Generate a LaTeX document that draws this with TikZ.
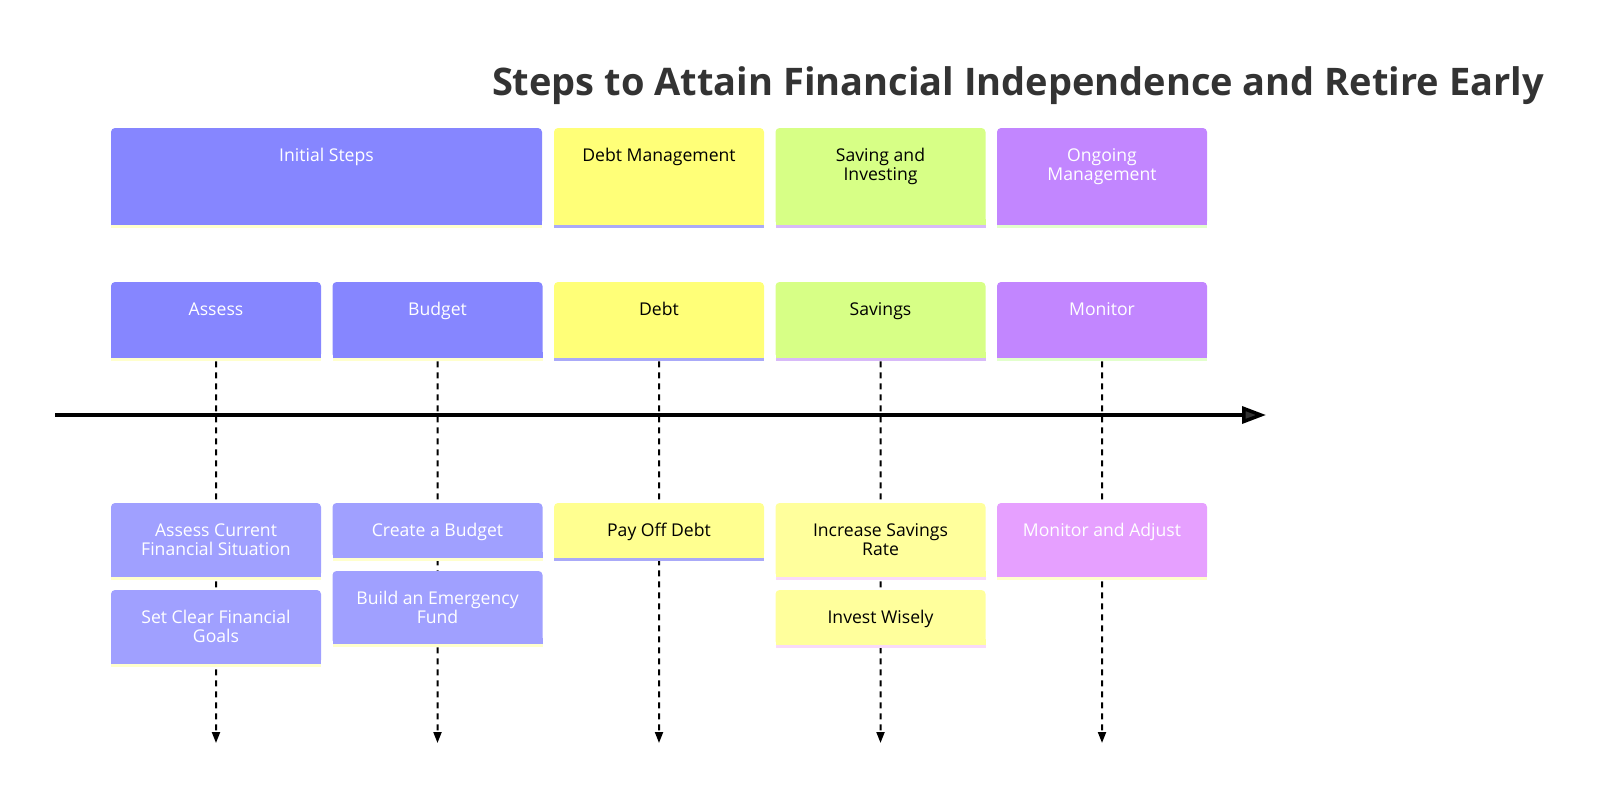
\documentclass[tikz,border=0pt]{standalone}
\usepackage{fontspec}
\setmainfont{Open Sans}
\usetikzlibrary{arrows.meta}

\definecolor{ink}{HTML}{333333}
\definecolor{blueHead}{HTML}{8686FF}
\definecolor{yellowHead}{HTML}{FFFF78}
\definecolor{greenHead}{HTML}{D7FF86}
\definecolor{purpleHead}{HTML}{C286FF}
\definecolor{blueEvent}{HTML}{A0A0FF}
\definecolor{yellowEvent}{HTML}{FFFF90}
\definecolor{paleEvent}{HTML}{FFFF9C}
\definecolor{pinkEvent}{HTML}{E6A0FF}
\definecolor{stripYellow}{HTML}{FFFFCC}
\definecolor{stripBlue}{HTML}{AAAAF8}
\definecolor{stripLilac}{HTML}{D8BAF8}
\definecolor{stripGreen}{HTML}{E2FFCC}
\definecolor{stripPink}{HTML}{F9DAF9}

% box with rounded top, square bottom and a thin strip under it
% #1 name, #2 left, #3 top, #4 width, #5 height, #6 fill, #7 strip, #8 text colour, #9 text
\newcommand{\tlbox}[9]{%
  \fill[#6, rounded corners=4pt] (#2,#3) rectangle ++(#4,#5);
  \fill[#6] (#2,#3+#5-6) rectangle ++(#4,6);
  \fill[#7] (#2,#3+#5) rectangle ++(#4,3);
  \node[inner sep=0pt, minimum width=#4, minimum height=#5+3, anchor=north west] (#1) at (#2,#3) {};
  \node[boxtext, text=#8] (#1-t) at (#2+#4/2,#3+33)
    {\begin{tabular}[t]{@{}c@{}}#9\end{tabular}};
}

\begin{document}
\begin{tikzpicture}[x=1pt, y=-1pt,
    boxtext/.style={anchor=base, inner sep=0pt, font=\fontsize{17.6}{19.5}\selectfont},
    timeaxis/.style={line width=3.5pt, draw=black, -{Triangle[length=24pt, width=17pt, fill=ink]}},
    tline/.style={line width=2pt, dash pattern=on 6pt off 5pt, -{Triangle[length=11pt, width=8pt]}}]
  \useasboundingbox (0,0) rectangle (1600,798);

  \node[anchor=base, text=ink, font=\fontsize{38}{44}\selectfont\bfseries] (title) at (1018,95)
    {Steps to Attain Financial Independence and Retire Early};

  % sections
  \tlbox{initial}{111}{128}{431}{97}{blueHead}{stripYellow}{white}{Initial Steps}
  \tlbox{debtmgmt}{554}{128}{210}{97}{yellowHead}{stripBlue}{black}{Debt Management}
  \tlbox{saving}{775.5}{128}{210}{97}{greenHead}{stripLilac}{black}{Saving and\\Investing}
  \tlbox{ongoing}{997}{128}{210}{97}{purpleHead}{stripGreen}{white}{Ongoing\\Management}

  % periods
  \tlbox{assess}{111}{282}{210}{76}{blueHead}{stripYellow}{white}{Assess}
  \tlbox{budget}{332.5}{282}{210}{76}{blueHead}{stripYellow}{white}{Budget}
  \tlbox{debt}{554}{282}{210}{76}{yellowHead}{stripBlue}{black}{Debt}
  \tlbox{savings}{775.5}{282}{210}{76}{greenHead}{stripLilac}{black}{Savings}
  \tlbox{monitor}{997}{282}{210}{76}{purpleHead}{stripGreen}{white}{Monitor}

  % time axis
  \coordinate (axstart) at (55,415);
  \coordinate (axend) at (1266,415);
  \draw[timeaxis] (axstart) -- (axend);

  \coordinate (end1) at (216,743);
  \coordinate (end2) at (437.5,743);
  \coordinate (end3) at (659,743);
  \coordinate (end4) at (880.5,743);
  \coordinate (end5) at (1102,743);
  \draw[tline] (assess.south) -- (end1);
  \draw[tline] (budget.south) -- (end2);
  \draw[tline] (debt.south) -- (end3);
  \draw[tline] (savings.south) -- (end4);
  \draw[tline] (monitor.south) -- (end5);

  % events
  \tlbox{current}{111}{503}{210}{74}{blueEvent}{stripYellow}{white}{Assess Current\\Financial Situation}
  \tlbox{goals}{111}{590}{210}{74}{blueEvent}{stripYellow}{white}{Set Clear Financial\\Goals}
  \tlbox{create}{332.5}{503}{210}{55}{blueEvent}{stripYellow}{white}{Create a Budget}
  \tlbox{fund}{332.5}{571}{210}{73}{blueEvent}{stripYellow}{white}{Build an Emergency\\Fund}
  \tlbox{payoff}{554}{503}{210}{55}{yellowEvent}{stripBlue}{black}{Pay Off Debt}
  \tlbox{rate}{775.5}{503}{210}{74}{paleEvent}{stripPink}{black}{Increase Savings\\Rate}
  \tlbox{invest}{775.5}{590}{210}{55}{paleEvent}{stripPink}{black}{Invest Wisely}
  \tlbox{adjust}{997}{503}{210}{74}{pinkEvent}{stripYellow}{white}{Monitor and Adjust}
\end{tikzpicture}
\end{document}
